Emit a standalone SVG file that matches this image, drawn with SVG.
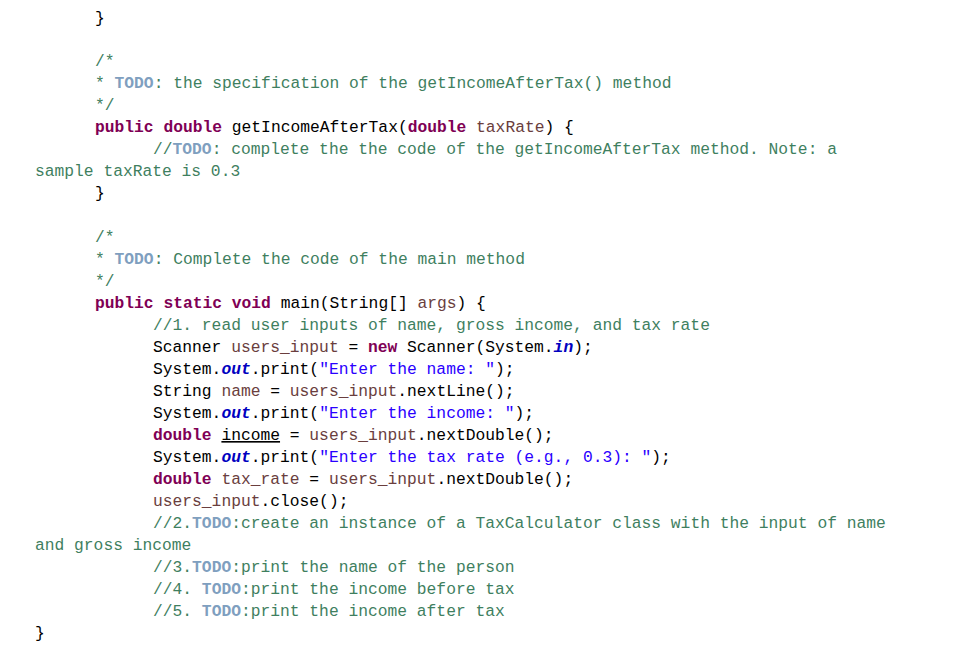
<svg xmlns="http://www.w3.org/2000/svg" width="979" height="655" viewBox="0 0 979 655" xml:space="preserve">
<style>
text{font-family:"Liberation Mono","DejaVu Sans Mono",monospace;font-size:16.3px;fill:#000}
.c{fill:#3F7F5F}.k{fill:#7F0055;font-weight:bold}.s{fill:#2A00FF}.t{fill:#7F9FBF;font-weight:bold}
.o{fill:#0000C0;font-weight:bold;font-style:italic}.v{fill:#6A3E3E}.u{text-decoration:underline}
</style>
<rect width="979" height="655" fill="#fff"/>
<g id="code">
<text x="95" y="23">}</text>
<text x="95" y="66" class="c">/*</text>
<text x="95" y="88" class="c"> * <tspan class="t">TODO</tspan>: the specification of the getIncomeAfterTax() method</text>
<text x="95" y="110" class="c"> */</text>
<text x="95" y="132"><tspan class="k">public</tspan> <tspan class="k">double</tspan> getIncomeAfterTax(<tspan class="k">double</tspan> <tspan class="v">taxRate</tspan>) {</text>
<text x="153" y="154" class="c">//<tspan class="t">TODO</tspan>: complete the the code of the getIncomeAfterTax method. Note: a</text>
<text x="35" y="176" class="c">sample taxRate is 0.3</text>
<text x="95" y="198">}</text>
<text x="95" y="242" class="c">/*</text>
<text x="95" y="264" class="c"> * <tspan class="t">TODO</tspan>: Complete the code of the main method</text>
<text x="95" y="286" class="c"> */</text>
<text x="95" y="308"><tspan class="k">public</tspan> <tspan class="k">static</tspan> <tspan class="k">void</tspan> main(String[] <tspan class="v">args</tspan>) {</text>
<text x="153" y="330" class="c">//1. read user inputs of name, gross income, and tax rate</text>
<text x="153" y="352">Scanner <tspan class="v">users_input</tspan> = <tspan class="k">new</tspan> Scanner(System.<tspan class="o">in</tspan>);</text>
<text x="153" y="374">System.<tspan class="o">out</tspan>.print(<tspan class="s">"Enter the name: "</tspan>);</text>
<text x="153" y="396">String <tspan class="v">name</tspan> = <tspan class="v">users_input</tspan>.nextLine();</text>
<text x="153" y="418">System.<tspan class="o">out</tspan>.print(<tspan class="s">"Enter the income: "</tspan>);</text>
<text x="153" y="440"><tspan class="k">double</tspan> <tspan class="u">income</tspan> = <tspan class="v">users_input</tspan>.nextDouble();</text>
<text x="153" y="462">System.<tspan class="o">out</tspan>.print(<tspan class="s">"Enter the tax rate (e.g., 0.3): "</tspan>);</text>
<text x="153" y="484"><tspan class="k">double</tspan> <tspan class="v">tax_rate</tspan> = <tspan class="v">users_input</tspan>.nextDouble();</text>
<text x="153" y="506"><tspan class="v">users_input</tspan>.close();</text>
<text x="153" y="528" class="c">//2.<tspan class="t">TODO</tspan>:create an instance of a TaxCalculator class with the input of name</text>
<text x="35" y="550" class="c">and gross income</text>
<text x="153" y="572" class="c">//3.<tspan class="t">TODO</tspan>:print the name of the person</text>
<text x="153" y="594" class="c">//4. <tspan class="t">TODO</tspan>:print the income before tax</text>
<text x="153" y="616" class="c">//5. <tspan class="t">TODO</tspan>:print the income after tax</text>
<text x="35" y="638">}</text>
</g>
</svg>
